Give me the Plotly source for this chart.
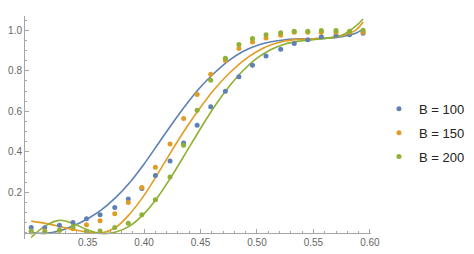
import plotly.graph_objects as go

# ---- data ----
x_data = [0.300, 0.312, 0.325, 0.337, 0.349, 0.361, 0.374, 0.386, 0.398, 0.410,
          0.423, 0.435, 0.447, 0.459, 0.472, 0.484, 0.496, 0.508, 0.521, 0.533,
          0.545, 0.557, 0.570, 0.582, 0.594]
b100 = [0.027, 0.025, 0.038, 0.052, 0.070, 0.090, 0.125, 0.167, 0.219, 0.283,
        0.355, 0.444, 0.531, 0.622, 0.699, 0.770, 0.827, 0.873, 0.906, 0.934,
        0.953, 0.968, 0.975, 0.978, 0.985]
b150 = [0.005, 0.010, 0.013, 0.020, 0.040, 0.060, 0.095, 0.150, 0.224, 0.324,
        0.438, 0.564, 0.683, 0.783, 0.850, 0.910, 0.942, 0.962, 0.975, 0.990,
        0.990, 0.990, 0.990, 0.990, 0.990]
b200 = [0.010, 0.005, 0.013, 0.030, 0.010, 0.010, 0.027, 0.048, 0.090, 0.163,
        0.276, 0.433, 0.605, 0.753, 0.862, 0.929, 0.959, 0.977, 0.987, 0.995,
        0.995, 0.998, 0.998, 0.995, 1.000]

x_fit = [0.300, 0.3125, 0.325, 0.3375, 0.350, 0.3625, 0.375, 0.3875, 0.400, 0.4125,
         0.425, 0.4375, 0.450, 0.4625, 0.475, 0.4875, 0.500, 0.5125, 0.525, 0.5375,
         0.550, 0.5625, 0.575, 0.5875, 0.594]
fit100 = [0.002, -0.002, 0.010, 0.035, 0.070, 0.115, 0.175, 0.250, 0.340, 0.440,
          0.540, 0.635, 0.720, 0.790, 0.850, 0.895, 0.925, 0.943, 0.953, 0.957,
          0.958, 0.960, 0.968, 0.985, 1.005]
fit150 = [0.058, 0.047, 0.032, 0.016, 0.004, 0.000, 0.028, 0.095, 0.185, 0.295,
          0.410, 0.520, 0.620, 0.710, 0.785, 0.848, 0.895, 0.928, 0.947, 0.955,
          0.958, 0.962, 0.972, 1.000, 1.040]
fit200 = [-0.022, 0.035, 0.062, 0.046, 0.014, -0.003, 0.005, 0.035, 0.095, 0.180,
          0.285, 0.400, 0.515, 0.625, 0.720, 0.800, 0.862, 0.905, 0.932, 0.946,
          0.953, 0.961, 0.975, 1.020, 1.055]

names = ["B = 100", "B = 150", "B = 200"]
colors = ["#5E81B5", "#E19C24", "#8FB032"]
x_ticks = [0.35, 0.40, 0.45, 0.50, 0.55, 0.60]
y_ticks = [0.2, 0.4, 0.6, 0.8, 1.0]

x_range = [0.2945, 0.601]
y_range = [-0.03, 1.07]

fig = go.Figure()
for fy, c in zip([fit100, fit150, fit200], colors):
    fig.add_trace(go.Scatter(x=x_fit, y=fy, mode="lines", line=dict(color=c, width=1.6, shape="spline"),
                             showlegend=False, hoverinfo="skip"))
for i, (yy, c, n) in enumerate(zip([b100, b150, b200], colors, names)):
    fig.add_trace(go.Scatter(x=x_data, y=yy, mode="markers", name=n, legendgroup=f"g{i}",
                             marker=dict(color=c, size=5)))

axis_col = "#a6a6a6"
tick_font = dict(family="Liberation Sans, Arial, sans-serif", size=10, color="#666666")
fig.update_layout(
    width=474, height=254,
    margin=dict(l=25, r=103, t=16, b=15, autoexpand=False),
    paper_bgcolor="white", plot_bgcolor="white",
    xaxis=dict(range=x_range, anchor="free", position=(0 - y_range[0]) / (y_range[1] - y_range[0]),
               tickvals=x_ticks, ticktext=[f"{v:.2f}" for v in x_ticks],
               showgrid=False, zeroline=False, showline=True, linecolor=axis_col, linewidth=1,
               ticks="inside", ticklen=4, tickcolor=axis_col, tickfont=tick_font,
               minor=dict(dtick=0.01, tick0=0.30, ticks="inside", ticklen=2, tickcolor=axis_col),
               automargin=False),
    yaxis=dict(range=y_range, tickvals=y_ticks, ticktext=[f"{v:.1f}" for v in y_ticks],
               showgrid=False, zeroline=False, showline=True, linecolor=axis_col, linewidth=1,
               ticks="inside", ticklen=4, tickcolor=axis_col, tickfont=tick_font,
               minor=dict(dtick=0.05, tick0=0, ticks="inside", ticklen=2, tickcolor=axis_col),
               automargin=False),
    legend=dict(x=1.023, y=0.476, xanchor="left", yanchor="middle", traceorder="grouped",
                tracegroupgap=4, font=dict(family="Liberation Sans, Arial, sans-serif", size=13, color="#222222"),
                bgcolor="rgba(0,0,0,0)", itemwidth=30),
)
fig.write_html("out.html")
